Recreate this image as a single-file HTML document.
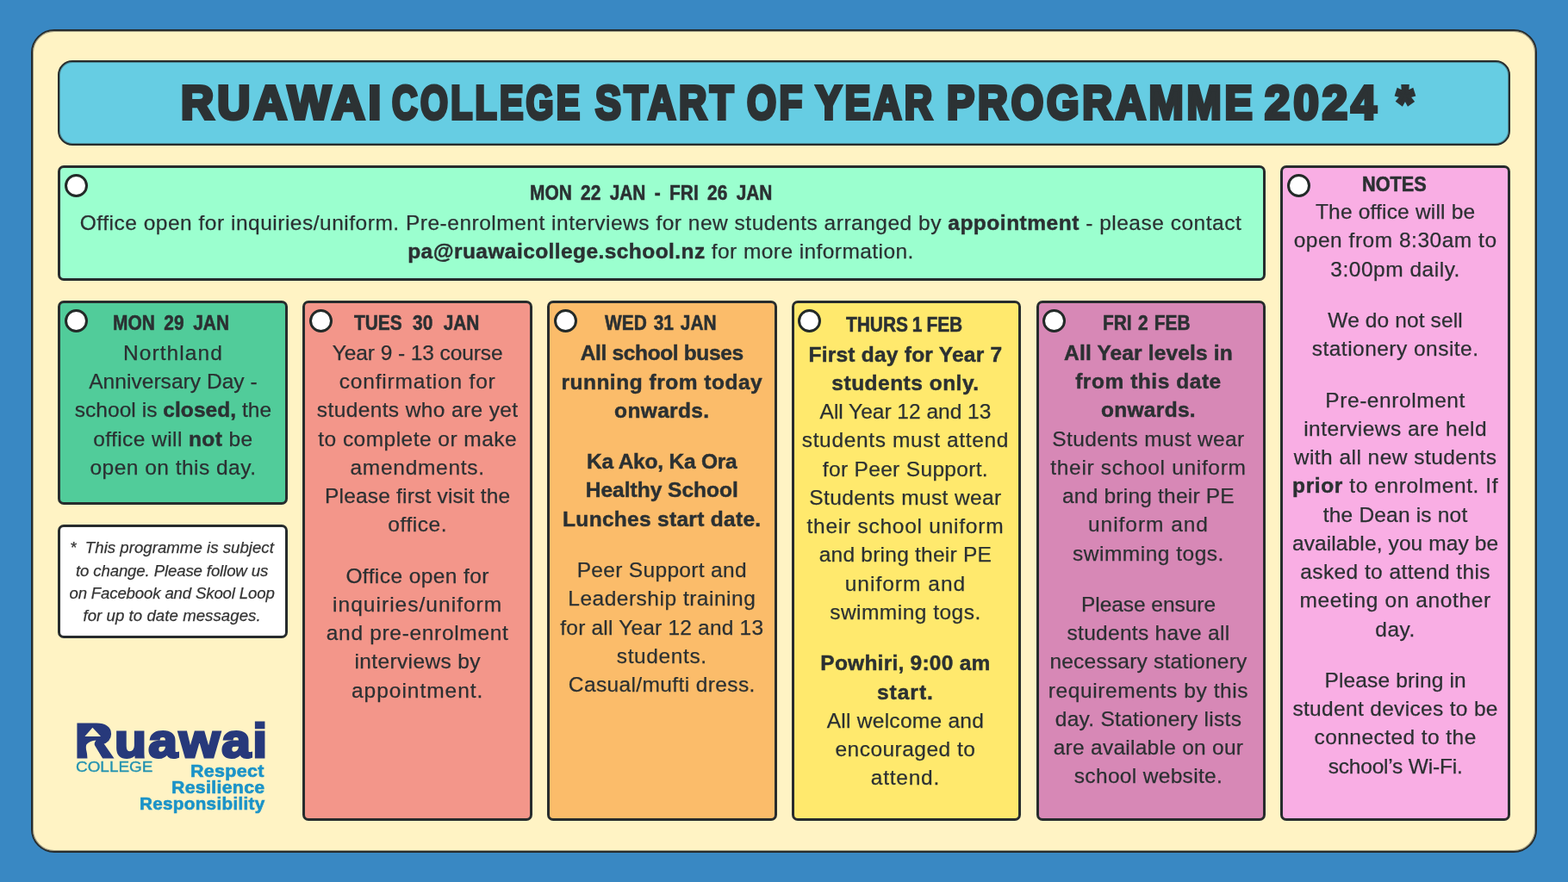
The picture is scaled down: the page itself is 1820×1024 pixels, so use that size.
<!DOCTYPE html>
<html lang="en">
<head>
<meta charset="utf-8">
<title>Ruawai College Start of Year Programme 2024</title>
<style>html,body{margin:0;padding:0}
body{width:1820px;height:1024px;overflow:hidden;position:relative;background:#3988c3;font-family:"Liberation Sans",sans-serif;color:#2b3032;-webkit-text-stroke-color:#2b3032}
.card{position:absolute;left:36px;top:34px;width:1748px;height:956px;box-sizing:border-box;background:#fff3c4;border:2px solid #272c2d;border-radius:27px;box-shadow:inset 0 0 0 1px rgba(39,44,45,.45)}
.box{position:absolute;box-sizing:border-box;border:3px solid #272c2d;border-radius:7px;text-align:center;white-space:nowrap;overflow:hidden}
.dot{position:absolute;width:27px;height:27px;box-sizing:border-box;border:3px solid #232a28;border-radius:50%;background:#fff}
.box h2{position:absolute;margin:0;left:0;transform-origin:0 0;-webkit-text-stroke-width:0.55px;font-weight:bold;font-size:24px;line-height:30px;white-space:nowrap}
.box p{margin:0;position:relative;-webkit-text-stroke-width:0.25px;font-size:24.5px;line-height:33.25px}
.box p+p{margin-top:26.1px}
.l{display:block}
b{font-weight:bold;-webkit-text-stroke-width:0.45px}
.title{position:absolute;box-sizing:border-box;border:2px solid #272c2d;border-radius:17px;background:#66cde3;box-shadow:inset 0 0 0 1px rgba(39,44,45,.4)}
.title h1{margin:0;position:absolute;left:0;top:0;width:100%;height:100%;font-size:55px;font-weight:bold;color:#2c3234;white-space:nowrap}
.title h1 span{position:absolute;-webkit-text-stroke:4.2px #2c3234;letter-spacing:4.4px;transform-origin:0 0}
.note{background:#fff;font-style:italic;color:#343434;-webkit-text-stroke-color:#343434}
.note p{font-size:18.6px;line-height:26.25px}
.logo{position:absolute;left:0;top:0;white-space:nowrap;line-height:1}
.logo span{position:absolute;transform-origin:0 0;display:block}
.logo .name{font-weight:bold;color:#27397b;-webkit-text-stroke:3px #27397b;letter-spacing:2px}
.logo .sub{color:#2392b0;-webkit-text-stroke:0.35px #2392b0}
.logo .val{font-weight:bold;color:#1b93c8;-webkit-text-stroke:0.6px #1b93c8;letter-spacing:0.3px}
.logo svg{position:absolute;left:88px;top:836px}
</style>
</head>
<body>
<div class="card"></div>
<header class="title" style="left:67px;top:70px;width:1686px;height:99px">
<h1><span id="title0" style="left:141.45px;top:15.00px;font-size:55.00px;transform:scaleX(0.9596)">RUAWAI</span> <span id="title1" style="left:386.20px;top:15.00px;font-size:55.00px;transform:scaleX(0.7467)">COLLEGE</span> <span id="title2" style="left:622.00px;top:15.00px;font-size:55.00px;transform:scaleX(0.8147)">START</span> <span id="title3" style="left:797.60px;top:15.00px;font-size:55.00px;transform:scaleX(0.7957)">OF</span> <span id="title4" style="left:877.80px;top:15.00px;font-size:55.00px;transform:scaleX(0.8141)">YEAR</span> <span id="title5" style="left:1030.00px;top:15.00px;font-size:55.00px;transform:scaleX(0.8761)">PROGRAMME</span> <span id="title6" style="left:1399.36px;top:15.00px;font-size:55.00px;transform:scaleX(0.9554)">2024</span> <span id="title7" style="left:1552.25px;top:15.00px;font-size:55.00px;transform:scaleX(0.9280)">*</span></h1>
</header>
<section class="box" id="week" style="left:67px;top:191.5px;width:1402px;height:134px;background:#9bffcf">
<span class="dot" style="left:5.3px;top:7.2px"></span>
<h2 id="week_h" style="left:545.00px;top:14.50px;transform:scaleX(0.8700);word-spacing:5.24px">MON 22 JAN - FRI 26 JAN</h2>
<p style="padding-top:47.01px;left:-1.00px"><span class="l" id="week_0" style="letter-spacing:0.508px">Office open for inquiries/uniform. Pre-enrolment interviews for new students arranged by <b>appointment</b> - please contact</span><span class="l" id="week_1" style="letter-spacing:0.425px"><b>pa@ruawaicollege.school.nz</b> for more information.</span></p>
</section>
<section class="box" id="mon" style="left:67px;top:348.7px;width:267.3px;height:237.6px;background:#51cc9a">
<span class="dot" style="left:5.2px;top:7px"></span>
<h2 id="mon_h" style="left:61.40px;top:8.22px;transform:scaleX(0.8700);word-spacing:5.56px">MON 29 JAN</h2>
<p style="padding-top:41.21px;left:0.31px"><span class="l" id="mon_0" style="letter-spacing:1.066px">Northland</span><span class="l" id="mon_1" style="letter-spacing:0.050px">Anniversary Day -</span><span class="l" id="mon_2" style="letter-spacing:0.050px">school is <b>closed,</b> the</span><span class="l" id="mon_3" style="letter-spacing:0.419px">office will <b>not</b> be</span><span class="l" id="mon_4" style="letter-spacing:0.481px">open on this day.</span></p>
</section>
<section class="box" id="tues" style="left:350.7px;top:348.7px;width:267.3px;height:604.6px;background:#f3968a">
<span class="dot" style="left:5.1px;top:7px"></span>
<h2 id="tues_h" style="left:57.35px;top:8.22px;transform:scaleX(0.8700);word-spacing:7.54px">TUES 30 JAN</h2>
<p style="padding-top:41.21px;left:0.33px"><span class="l" id="tues_0" style="letter-spacing:-0.087px">Year 9 - 13 course</span><span class="l" id="tues_1" style="letter-spacing:0.808px">confirmation for</span><span class="l" id="tues_2" style="letter-spacing:0.379px">students who are yet</span><span class="l" id="tues_3" style="letter-spacing:0.466px">to complete or make</span><span class="l" id="tues_4" style="letter-spacing:0.719px">amendments.</span><span class="l" id="tues_5" style="letter-spacing:0.198px">Please first visit the</span><span class="l" id="tues_6" style="letter-spacing:0.526px">office.</span></p>
<p style="left:0.33px"><span class="l" id="tues_8" style="letter-spacing:0.420px">Office open for</span><span class="l" id="tues_9" style="letter-spacing:1.024px">inquiries/uniform</span><span class="l" id="tues_10" style="letter-spacing:0.678px">and pre-enrolment</span><span class="l" id="tues_11" style="letter-spacing:0.380px">interviews by</span><span class="l" id="tues_12" style="letter-spacing:0.973px">appointment.</span></p>
</section>
<section class="box" id="wed" style="left:635px;top:348.7px;width:266.8px;height:604.6px;background:#fbbc6a">
<span class="dot" style="left:4.7px;top:7px"></span>
<h2 id="wed_h" style="left:64.15px;top:8.22px;transform:scaleX(0.8700);word-spacing:2.45px">WED 31 JAN</h2>
<p style="padding-top:41.63px;left:-0.11px"><span class="l" id="wed_0" style="letter-spacing:-0.355px"><b>All school buses</b></span><span class="l" id="wed_1" style="letter-spacing:0.514px"><b>running from today</b></span><span class="l" id="wed_2" style="letter-spacing:0.356px"><b>onwards.</b></span></p>
<p style="left:-0.11px"><span class="l" id="wed_4" style="letter-spacing:-0.220px"><b>Ka Ako, Ka Ora</b></span><span class="l" id="wed_5" style="letter-spacing:0.009px"><b>Healthy School</b></span><span class="l" id="wed_6" style="letter-spacing:0.302px"><b>Lunches start date.</b></span></p>
<p style="left:-0.11px"><span class="l" id="wed_8" style="letter-spacing:0.328px">Peer Support and</span><span class="l" id="wed_9" style="letter-spacing:0.509px">Leadership training</span><span class="l" id="wed_10" style="letter-spacing:0.197px">for all Year 12 and 13</span><span class="l" id="wed_11" style="letter-spacing:0.620px">students.</span><span class="l" id="wed_12" style="letter-spacing:0.382px">Casual/mufti dress.</span></p>
</section>
<section class="box" id="thurs" style="left:918.6px;top:348.7px;width:266.7px;height:604.6px;background:#ffe96d">
<span class="dot" style="left:4.6px;top:7px"></span>
<h2 id="thurs_h" style="left:60.05px;top:10.22px;transform:scaleX(0.8700);word-spacing:-0.99px">THURS 1 FEB</h2>
<p style="padding-top:43.02px;left:-1.03px"><span class="l" id="thurs_0" style="letter-spacing:0.240px"><b>First day for Year 7</b></span><span class="l" id="thurs_1" style="letter-spacing:0.491px"><b>students only.</b></span><span class="l" id="thurs_2" style="letter-spacing:-0.010px">All Year 12 and 13</span><span class="l" id="thurs_3" style="letter-spacing:0.641px">students must attend</span><span class="l" id="thurs_4" style="letter-spacing:0.331px">for Peer Support.</span><span class="l" id="thurs_5" style="letter-spacing:0.373px">Students must wear</span><span class="l" id="thurs_6" style="letter-spacing:0.748px">their school uniform</span><span class="l" id="thurs_7" style="letter-spacing:0.243px">and bring their PE</span><span class="l" id="thurs_8" style="letter-spacing:1.014px">uniform and</span><span class="l" id="thurs_9" style="letter-spacing:0.479px">swimming togs.</span></p>
<p style="left:-1.03px"><span class="l" id="thurs_11" style="letter-spacing:0.244px"><b>Powhiri, 9:00 am</b></span><span class="l" id="thurs_12" style="letter-spacing:1.028px"><b>start.</b></span><span class="l" id="thurs_13" style="letter-spacing:0.272px">All welcome and</span><span class="l" id="thurs_14" style="letter-spacing:0.481px">encouraged to</span><span class="l" id="thurs_15" style="letter-spacing:0.758px">attend.</span></p>
</section>
<section class="box" id="fri" style="left:1202.6px;top:348.7px;width:266.7px;height:604.6px;background:#d788b6">
<span class="dot" style="left:4.6px;top:7px"></span>
<h2 id="fri_h" style="left:74.20px;top:8.22px;transform:scaleX(0.8700);word-spacing:1.72px">FRI 2 FEB</h2>
<p style="padding-top:41.21px;left:-2.97px"><span class="l" id="fri_0" style="letter-spacing:0.155px"><b>All Year levels in</b></span><span class="l" id="fri_1" style="letter-spacing:0.542px"><b>from this date</b></span><span class="l" id="fri_2" style="letter-spacing:0.310px"><b>onwards.</b></span><span class="l" id="fri_3" style="letter-spacing:0.382px">Students must wear</span><span class="l" id="fri_4" style="letter-spacing:0.672px">their school uniform</span><span class="l" id="fri_5" style="letter-spacing:0.211px">and bring their PE</span><span class="l" id="fri_6" style="letter-spacing:0.952px">uniform and</span><span class="l" id="fri_7" style="letter-spacing:0.509px">swimming togs.</span></p>
<p style="left:-2.97px"><span class="l" id="fri_9" style="letter-spacing:-0.045px">Please ensure</span><span class="l" id="fri_10" style="letter-spacing:0.299px">students have all</span><span class="l" id="fri_11" style="letter-spacing:0.222px">necessary stationery</span><span class="l" id="fri_12" style="letter-spacing:0.582px">requirements by this</span><span class="l" id="fri_13" style="letter-spacing:0.279px">day. Stationery lists</span><span class="l" id="fri_14" style="letter-spacing:0.264px">are available on our</span><span class="l" id="fri_15" style="letter-spacing:0.323px">school website.</span></p>
</section>
<section class="box" id="notes" style="left:1486.4px;top:192px;width:266.8px;height:761.2px;background:#f9aee4">
<span class="dot" style="left:4.4px;top:6.7px"></span>
<h2 id="notes_h" style="left:91.20px;top:3.80px;transform:scaleX(0.9048);word-spacing:0.00px">NOTES</h2>
<p style="padding-top:34.11px;left:-0.18px"><span class="l" id="notes_0" style="letter-spacing:0.182px">The office will be</span><span class="l" id="notes_1" style="letter-spacing:0.518px">open from 8:30am to</span><span class="l" id="notes_2" style="letter-spacing:0.520px">3:00pm daily.</span></p>
<p style="left:-0.18px"><span class="l" id="notes_4" style="letter-spacing:0.122px">We do not sell</span><span class="l" id="notes_5" style="letter-spacing:0.470px">stationery onsite.</span></p>
<p style="left:-0.18px"><span class="l" id="notes_7" style="letter-spacing:0.563px">Pre-enrolment</span><span class="l" id="notes_8" style="letter-spacing:0.448px">interviews are held</span><span class="l" id="notes_9" style="letter-spacing:0.459px">with all new students</span><span class="l" id="notes_10" style="letter-spacing:0.591px"><b>prior</b> to enrolment. If</span><span class="l" id="notes_11" style="letter-spacing:0.190px">the Dean is not</span><span class="l" id="notes_12" style="letter-spacing:0.118px">available, you may be</span><span class="l" id="notes_13" style="letter-spacing:0.420px">asked to attend this</span><span class="l" id="notes_14" style="letter-spacing:0.628px">meeting on another</span><span class="l" id="notes_15" style="letter-spacing:0.549px">day.</span></p>
<p style="left:-0.18px"><span class="l" id="notes_17" style="letter-spacing:0.156px">Please bring in</span><span class="l" id="notes_18" style="letter-spacing:0.327px">student devices to be</span><span class="l" id="notes_19" style="letter-spacing:0.440px">connected to the</span><span class="l" id="notes_20" style="letter-spacing:-0.195px">school’s Wi-Fi.</span></p>
</section>
<aside class="box note" id="note" style="left:67.3px;top:609.4px;width:267px;height:131.3px">
<p style="padding-top:11.02px;left:-1.28px"><span class="l" id="note_0" style="letter-spacing:0.038px">*  This programme is subject</span><span class="l" id="note_1" style="letter-spacing:-0.118px">to change. Please follow us</span><span class="l" id="note_2" style="letter-spacing:-0.143px">on Facebook and Skool Loop</span><span class="l" id="note_3" style="letter-spacing:0.066px">for up to date messages.</span></p>
</aside>
<footer class="logo">
<span class="name" id="logo_name" style="left:86.84px;top:832.31px;font-size:56.30px;transform:scaleX(1.0773)">Ruawai</span>
<span class="sub" id="logo_sub" style="left:87.83px;top:882.01px;font-size:17.30px;transform:scaleX(1.0946)">COLLEGE</span>
<span class="val" id="logo_v0" style="left:221.40px;top:885.91px;font-size:19.30px;transform:scaleX(1.1120)">Respect</span>
<span class="val" id="logo_v1" style="left:199.40px;top:904.91px;font-size:19.30px;transform:scaleX(1.1027)">Resilience</span>
<span class="val" id="logo_v2" style="left:161.60px;top:923.81px;font-size:19.30px;transform:scaleX(1.0703)">Responsibility</span>
<svg width="40" height="50" viewBox="88 836 40 50" aria-hidden="true"><rect x="99.5" y="846" width="19.5" height="12" fill="#27397b"/><polygon points="107.4,844.7 98.4,855.1 117,855.1" fill="#fff3c4"/><path d="M102.2 881.2 L100.5 872.4 Q99.1 866.9 100.5 864.2 Q103.9 860.1 111.5 859.4 Q108.7 862.8 110.1 865.6 L119.5 881.2 Z" fill="#fff3c4"/></svg>
</footer>
</body>
</html>
